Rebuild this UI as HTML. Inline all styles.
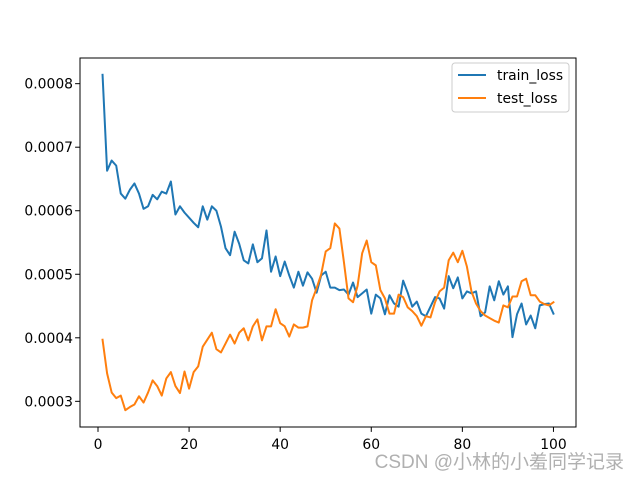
<!DOCTYPE html>
<html><head><meta charset="utf-8"><style>
body{margin:0;background:#fff;}
svg text{font-family:"DejaVu Sans","Liberation Sans",sans-serif;}
</style></head><body>
<svg width="640" height="480" xmlns="http://www.w3.org/2000/svg">
<rect width="640" height="480" fill="#fff"/>
<g id="plot"></g>
<text x="624" y="468" text-anchor="end" font-size="19" fill="#b0b0b0" style="font-family:'Liberation Sans','Noto Sans CJK SC',sans-serif">CSDN @小林的小羞同学记录</text>
</svg>
<script>
const epochs = Array.from({length:100},(_,i)=>i+1);
const trainLoss = [8.14,6.63,6.79,6.71,6.27,6.19,6.33,6.43,6.27,6.03,6.07,6.25,6.18,6.30,6.27,6.46,5.94,6.07,5.97,5.89,5.81,5.74,6.07,5.86,6.07,6.00,5.75,5.41,5.30,5.67,5.48,5.22,5.17,5.47,5.19,5.25,5.69,5.04,5.28,4.97,5.20,4.98,4.79,5.04,4.82,5.03,4.93,4.71,4.98,5.04,4.79,4.79,4.75,4.76,4.68,4.87,4.64,4.70,4.76,4.38,4.68,4.62,4.37,4.67,4.54,4.49,4.90,4.71,4.49,4.57,4.38,4.34,4.49,4.64,4.62,4.46,4.97,4.78,4.95,4.62,4.73,4.70,4.73,4.34,4.40,4.81,4.59,4.89,4.68,4.81,4.01,4.37,4.54,4.21,4.35,4.15,4.51,4.53,4.54,4.38].map(v=>v*1e-4);
const testLoss = [3.97,3.44,3.14,3.05,3.09,2.86,2.91,2.95,3.08,2.98,3.14,3.33,3.24,3.09,3.36,3.46,3.24,3.13,3.47,3.20,3.46,3.55,3.86,3.97,4.08,3.82,3.77,3.91,4.05,3.91,4.08,4.15,3.96,4.18,4.29,3.96,4.18,4.18,4.45,4.23,4.18,4.02,4.21,4.16,4.16,4.18,4.59,4.78,5.00,5.36,5.41,5.80,5.72,5.19,4.62,4.56,4.82,5.33,5.53,5.19,5.14,4.75,4.62,4.38,4.38,4.68,4.64,4.48,4.42,4.34,4.19,4.34,4.32,4.56,4.73,4.79,5.22,5.34,5.19,5.37,5.12,4.73,4.54,4.42,4.35,4.31,4.27,4.24,4.51,4.48,4.65,4.65,4.89,4.93,4.67,4.67,4.57,4.53,4.51,4.56].map(v=>v*1e-4);
const xTicks = [0,20,40,60,80,100];
const yTicks = [0.0003,0.0004,0.0005,0.0006,0.0007,0.0008];
const yTickLabels = ["0.0003","0.0004","0.0005","0.0006","0.0007","0.0008"];

const L=80,R=576,T=58,B=427;
const NS="http://www.w3.org/2000/svg";
const all=trainLoss.concat(testLoss);
let ymin=Math.min(...all),ymax=Math.max(...all);const ypad=(ymax-ymin)*0.05;ymin-=ypad;ymax+=ypad;
let xmin=Math.min(...epochs),xmax=Math.max(...epochs);const xpad=(xmax-xmin)*0.05;xmin-=xpad;xmax+=xpad;
const sx=v=>L+(v-xmin)/(xmax-xmin)*(R-L);
const sy=v=>B-(v-ymin)/(ymax-ymin)*(B-T);
const g=document.getElementById('plot');
function mk(tag,attrs){const e=document.createElementNS(NS,tag);for(const k in attrs)e.setAttribute(k,attrs[k]);g.appendChild(e);return e;}
function line(data,color,name){
  const p=mk('polyline',{points:data.map((v,i)=>sx(epochs[i]).toFixed(2)+','+sy(v).toFixed(2)).join(' '),fill:'none',stroke:color,'stroke-width':2,'stroke-linejoin':'round','stroke-linecap':'square'});
  
  
}
line(trainLoss,'#1f77b4','train-loss-line');
line(testLoss,'#ff7f0e','test-loss-line');
const frame=mk('rect',{x:L,y:T,width:R-L,height:B-T,fill:'none',stroke:'#000','stroke-width':1});


xTicks.forEach(t=>{
  const x=sx(t);
  const tk=mk('line',{x1:x,x2:x,y1:B,y2:B+4.9,stroke:'#000','stroke-width':1});
  
  
  const tx=mk('text',{x:x,y:B+22,'text-anchor':'middle','font-size':13.9,fill:'#000'});
  tx.textContent=t;
  
  
});
yTicks.forEach((t,i)=>{
  const y=sy(t);
  const tk=mk('line',{x1:L-4.9,x2:L,y1:y,y2:y,stroke:'#000','stroke-width':1});
  
  
  const tx=mk('text',{x:L-7,y:y+5,'text-anchor':'end','font-size':13.9,fill:'#000'});
  tx.textContent=yTickLabels[i];
  
  
});
const lg=mk('rect',{x:452,y:63,width:117,height:49,rx:3,fill:'#fff','fill-opacity':0.8,stroke:'#ccc','stroke-width':1});


[['train_loss','#1f77b4',75],['test_loss','#ff7f0e',98]].forEach(([lab,c,y])=>{
  const l=mk('line',{x1:458,x2:486,y1:y,y2:y,stroke:c,'stroke-width':2});
  
  
  const t=mk('text',{x:497,y:y+5,'font-size':13.9,fill:'#000'});
  t.textContent=lab;
  
  
});
</script>
</body></html>
